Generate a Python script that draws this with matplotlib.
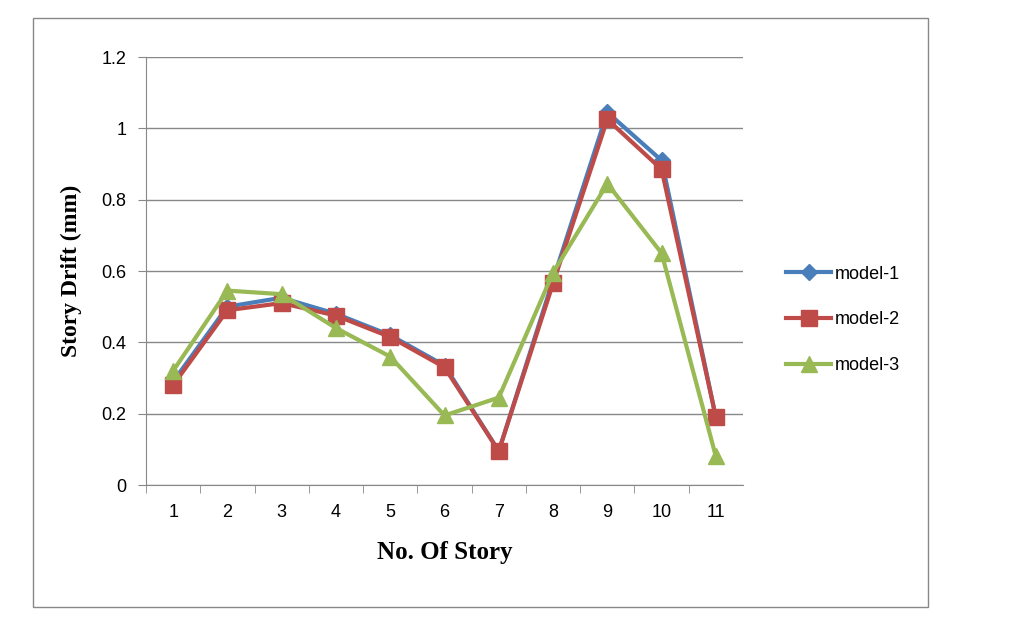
import matplotlib
matplotlib.use("Agg")
import matplotlib.pyplot as plt
from matplotlib.patches import Rectangle

stories = list(range(1, 12))
model1 = [0.29, 0.50, 0.525, 0.48, 0.42, 0.335, 0.095, 0.575, 1.045, 0.91, 0.19]
model2 = [0.28, 0.49, 0.51, 0.475, 0.415, 0.33, 0.095, 0.565, 1.025, 0.885, 0.19]
model3 = [0.32, 0.545, 0.535, 0.44, 0.36, 0.195, 0.245, 0.595, 0.845, 0.65, 0.08]
yticks = [0, 0.2, 0.4, 0.6, 0.8, 1, 1.2]
ytick_labels = ["0", "0.2", "0.4", "0.6", "0.8", "1", "1.2"]

fig = plt.figure(figsize=(10.22, 6.24), dpi=100)
fig.patches.append(Rectangle((33/1022, 1-607/624), (928-33)/1022, (607-18)/624,
                             transform=fig.transFigure, fill=False, ec="#888888", lw=1))
ax = fig.add_axes([146/1022, 1-485/624, (743-146)/1022, (485-57)/624])
tf = "Liberation Sans"
ax.plot(stories, model1, color="#4A7EBB", marker="D", ms=8, lw=3, label="model-1")
ax.plot(stories, model2, color="#BE4B48", marker="s", ms=11, lw=3, label="model-2")
ax.plot(stories, model3, color="#98B954", marker="^", ms=11, lw=3, label="model-3")
ax.set_xlim(0.5, 11.5)
ax.set_ylim(0, 1.2)
ax.set_yticks(yticks)
ax.set_yticklabels(ytick_labels, fontfamily=tf, fontsize=13)
ax.set_xticks(stories)
ax.set_xticklabels([str(s) for s in stories], fontfamily=tf, fontsize=13)
ax.set_xticks([s + 0.5 for s in range(0, 11)], minor=True)
ax.tick_params(axis="x", which="major", length=0, pad=14)
ax.tick_params(axis="x", which="minor", length=6, direction="out", color="#888888")
ax.tick_params(axis="y", length=6, color="#888888", pad=8)
ax.grid(axis="y", color="#888888", lw=1)
ax.set_axisbelow(True)
for s in ["top", "right"]:
    ax.spines[s].set_visible(False)
for s in ["left", "bottom"]:
    ax.spines[s].set_color("#888888")
ax.set_xlabel("No. Of Story", fontfamily="Liberation Serif", fontweight="bold", fontsize=18, labelpad=14)
ax.set_ylabel("Story Drift (mm)", fontfamily="Liberation Serif", fontweight="bold", fontsize=17, labelpad=14)
fig.legend(loc="center left", bbox_to_anchor=(770/1022, 1-320/624), frameon=False,
           prop={"family": tf, "size": 13}, handlelength=2.5, labelspacing=1.6, handletextpad=0.2)
fig.savefig("out.png", dpi=100)
